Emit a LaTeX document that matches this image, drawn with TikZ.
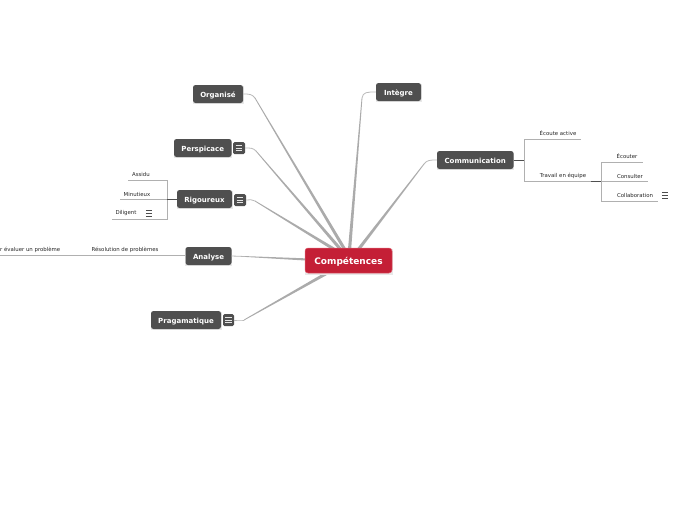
\documentclass[tikz,border=0pt]{standalone}
\usepackage{fontspec}
\setmainfont{DejaVu Sans}
\usetikzlibrary{calc}
\definecolor{nodedark}{HTML}{4F4F4F}
\definecolor{rootred}{HTML}{C41F36}
\definecolor{rootedge}{HTML}{E0606F}
\definecolor{branch}{HTML}{ABABAB}
\definecolor{subline}{HTML}{B0B0B0}
\definecolor{shadowc}{HTML}{E8E8E8}
\tikzset{
  topic/.style={fill=nodedark,rounded corners=2.5pt,text=white,font=\bfseries\fontsize{7}{7}\selectfont,inner sep=0pt,anchor=center,text height=6pt,text depth=0pt},
  rootbox/.style={fill=rootred,draw=rootedge,line width=.5pt,rounded corners=3pt,text=white,font=\bfseries\fontsize{9}{9}\selectfont,inner sep=0pt,text height=7.5pt,text depth=0pt},
  iconbox/.style={fill=nodedark,rounded corners=1.5pt,inner sep=0pt,minimum width=12pt,minimum height=12pt,
    path picture={\draw[white!90!black,line width=.65pt]
      ($(path picture bounding box.center)+(-3.4,-2.6)$) -- +(6.8,0)
      ($(path picture bounding box.center)+(-3.4,0)$) -- +(6.8,0)
      ($(path picture bounding box.center)+(-3.4,2.6)$) -- +(6.8,0);}},
  plainicon/.style={inner sep=0pt,minimum width=8pt,minimum height=8pt,
    path picture={\draw[black!70,line width=.5pt]
      ($(path picture bounding box.center)+(-3.2,-2.8)$) -- +(6.4,0)
      ($(path picture bounding box.center)+(-3.2,0)$) -- +(6.4,0)
      ($(path picture bounding box.center)+(-3.2,2.8)$) -- +(6.4,0);}},
  lab/.style={font=\fontsize{5.4}{6}\selectfont,text=black!85,inner sep=0pt},
  thin branch/.style={draw=branch!85!white,line width=.8pt,line cap=round},
  taper/.style={fill=branch},
  sub/.style={draw=subline,line width=.8pt},
  subdark/.style={draw=nodedark,line width=.8pt},
}
\newcommand{\topicbox}[6]{% name, x1, y1, x2, y2, text
  \fill[shadowc] (#2-.5,#3+1) rectangle (#4+.5,#5+1.2);
  \node[topic,minimum width=#4pt-#2pt,minimum height=#5pt-#3pt] (#1) at ({(#2+#4)/2},{(#3+#5)/2}) {#6};
}
\newcommand{\taperline}[3]{% root pos, end, width
  \fill[taper] ($(#1)!#3!90:(#2)$) -- ($(#2)!.4pt!-90:(#1)$) -- ($(#2)!.4pt!90:(#1)$) -- ($(#1)!#3!-90:(#2)$) -- cycle;
}
\begin{document}
\begin{tikzpicture}[x=1pt,y=-1pt]
\useasboundingbox (0,0) rectangle (697,520);
% anchors on root
\coordinate (rO) at (345,250);
\coordinate (rP) at (342,251);
\coordinate (rR) at (337,251);
\coordinate (rA) at (307,259.5);
\coordinate (rG) at (329,272);
\coordinate (rI) at (349.5,250);
\coordinate (rC) at (358,250);
% elbows
\coordinate (eO) at (255,98);
\coordinate (eP) at (256,151);
\coordinate (eR) at (255,201);
\coordinate (eG) at (244,320);
\coordinate (eI) at (362,98);
\coordinate (eC) at (424,164);
\coordinate (eA) at (245,256.5);
% tapered parts
\taperline{rO}{eO}{1.6pt}
\taperline{rP}{eP}{1.6pt}
\taperline{rR}{eR}{1.6pt}
\taperline{rA}{eA}{1.1pt}
\taperline{rG}{eG}{1.6pt}
\taperline{rI}{eI}{1.6pt}
\taperline{rC}{eC}{1.6pt}
% nodes
\fill[shadowc] (304.5,249) rectangle (392.5,274.5);
\node[rootbox,minimum width=87pt,minimum height=25pt] (root) at (348.5,260.5) {Compétences};
\topicbox{org}{193}{85}{243}{103}{Organisé}{}
\topicbox{per}{174}{139}{231.5}{157}{Perspicace}{}
\topicbox{rig}{177}{190}{232}{208}{Rigoureux}{}
\topicbox{ana}{185.5}{247}{231.5}{265}{Analyse}{}
\topicbox{pra}{151}{311}{221}{329}{Pragamatique}{}
\topicbox{int}{376}{83}{421}{101}{Intègre}{}
\topicbox{com}{437}{151}{513.5}{169}{Communication}{}
\node[iconbox] (iconP) at (239,148) {};
\node[iconbox] (iconR) at (240,200) {};
\node[iconbox,minimum width=11pt] (iconG) at (228.5,320) {};
% thin end of branches
\draw[thin branch] (org.east) .. controls (249,94) and (252,94) .. (eO);
\draw[thin branch] (iconP.east) .. controls (251,148) and (253,148) .. (eP);
\draw[thin branch] (iconR.east) .. controls (250,200) and (252,199) .. (eR);
\draw[thin branch] (ana.east) -- (eA);
\draw[thin branch] (iconG.east) .. controls (238,320) and (240,320) .. (eG);
\draw[thin branch] (int.west) .. controls (367,92) and (363,92) .. (eI);
\draw[thin branch] (com.west) .. controls (430,160) and (427,160) .. (eC);
% Rigoureux children
\coordinate (rv) at (167,199.5);
\coordinate (u1) at (128,180);
\coordinate (u2) at (120,199.5);
\coordinate (u3) at (112,219);
\draw[sub] (u1) -| (rv);
\draw[sub] (u3) -| (rv);
\draw[sub] (u2) -- (rv);
\draw[subdark] (rv) -- (rig.west |- rv);
\node[lab] (assidu) at (141,174.3) {Assidu};
\node[lab] (minu) at (137,194.3) {Minutieux};
\node[lab] (dili) at (126,213.2) {Diligent};
\node[plainicon] (iconD) at (149,213) {};
% Analyse children
\coordinate (a0) at (-1,255.5);
\draw[sub] (ana.west |- a0) -- (a0);
\node[lab] (reso) at (125,250.3) {Résolution de problèmes};
\node[lab,anchor=east] (eval) at (60.5,250.3) {r évaluer un problème};
% Communication children
\coordinate (cv) at (524,160);
\coordinate (c1) at (581,139);
\coordinate (c2) at (601,181.5);
\draw[subdark] (com.east |- cv) -- (cv);
\draw[sub] (cv) |- (c1);
\draw[sub] (cv) |- (c2);
\draw[subdark] (591,181.5) -- (c2);
\node[lab] (ecoute) at (558,133) {Écoute active};
\node[lab] (trav) at (563,176.3) {Travail en équipe};
\coordinate (d1) at (643,162);
\coordinate (d2) at (648,181.5);
\coordinate (d3) at (658,201);
\draw[sub] (c2) |- (d1);
\draw[sub] (c2) -- (d2);
\draw[sub] (c2) |- (d3);
\node[lab] (ecouter) at (627,156) {Écouter};
\node[lab] (consu) at (630,176.3) {Consulter};
\node[lab] (colla) at (635,195.3) {Collaboration};
\node[plainicon] (iconC) at (665,195) {};
\end{tikzpicture}
\end{document}
